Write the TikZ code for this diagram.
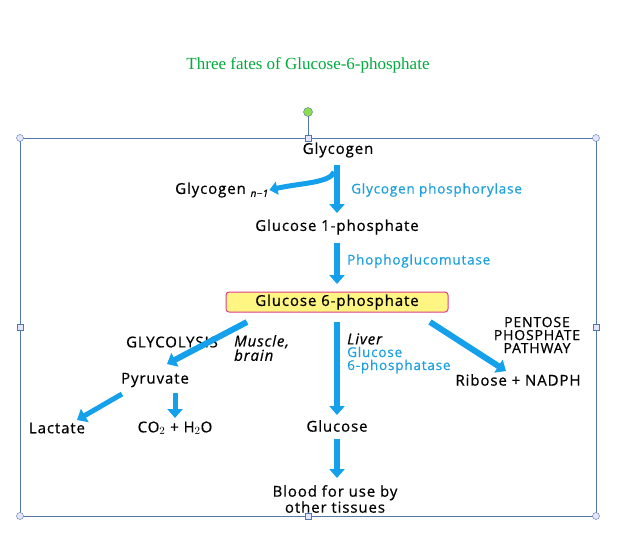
\documentclass[tikz,border=0pt]{standalone}
\usepackage{fontspec}
\setmainfont{Open Sans}[LetterSpace=6,FakeBold=0.6]
\newfontfamily\titlefont{Liberation Serif}
\usetikzlibrary{arrows.meta}
\definecolor{arr}{RGB}{20,160,235}
\definecolor{enz}{RGB}{30,160,220}
\definecolor{frame}{RGB}{80,120,170}
\begin{document}
\begin{tikzpicture}[x=1pt,y=-1pt,
  lab/.style={font=\fontsize{15}{14}\selectfont,inner sep=1pt,align=center},
  en/.style={lab,text=enz,font=\fontsize{13.5}{13}\selectfont},
  fa/.style={arr,line width=6pt,-{Triangle[length=9pt,width=15pt]}},
  hc/.style={circle,draw=frame,fill=white!90!blue,minimum size=7pt,inner sep=0pt},
  hs/.style={rectangle,draw=frame,fill=white!90!blue,minimum size=6pt,inner sep=0pt}]
\useasboundingbox (0,0) rectangle (626,542);
\node[font=\titlefont\fontsize{17}{19}\selectfont,text={rgb,255:red,0;green,170;blue,60}] (title) at (308,65) {Three fates of Glucose-6-phosphate};
\draw[frame] (20,138) rectangle (596,516);
\draw[frame] (308,138) -- (308,115);
\node[circle,draw=frame,fill={rgb,255:red,140;green,220;blue,80},minimum width=7pt,minimum height=9pt,inner sep=0pt] (rot) at (308,112) {};
\foreach \p/\n in {{(20,138)}/c1,{(596,138)}/c2,{(20,516)}/c3,{(596,516)}/c4}{\node[hc] (\n) at \p {};}
\foreach \p/\n in {{(308,138)}/s1,{(308,516)}/s2,{(20,327)}/s3,{(596,327)}/s4}{\node[hs] (\n) at \p {};}
\node[lab] (gly) at (338,150) {Glycogen};
\node[lab,anchor=west] (glyn) at (174,190) {Glycogen \raisebox{-3pt}{\fontsize{10}{10}\selectfont\itshape n\/{\normalfont\textminus}1}};
\node[en,anchor=west] (gp) at (350,190) {Glycogen phosphorylase};
\node[lab] (g1p) at (337,227) {Glucose 1-phosphate};
\node[en,anchor=west] (pgm) at (346,261) {Phophoglucomutase};
\node[lab,draw={rgb,255:red,220;green,60;blue,140},fill={rgb,255:red,255;green,245;blue,130},rounded corners=3pt,minimum width=222pt,minimum height=20pt,line width=1pt] (g6p) at (337,302) {Glucose 6-phosphate};
\node[lab] (glyc) at (172,342) {GLYCOLYSIS};
\node[lab,font=\itshape\fontsize{15}{13}\selectfont,align=left,anchor=west] (mb) at (233,348) {Muscle,\\brain};
\node[lab,font=\itshape\fontsize{15}{13}\selectfont,anchor=west] (liv) at (346,339) {Liver};
\node[en,align=left,anchor=west] (g6pase) at (346,360) {Glucose\\6-phosphatase};
\node[lab,font=\fontsize{14}{13}\selectfont] (ppp) at (537,335) {PENTOSE\\PHOSPHATE\\PATHWAY};
\node[lab] (pyr) at (155,380) {Pyruvate};
\node[lab] (rib) at (518,380) {Ribose + NADPH};
\node[lab] (lac) at (57,428) {Lactate};
\node[lab] (co2) at (175,428) {CO$_2$ + H$_2$O};
\node[lab] (glc) at (337,426) {Glucose};
\node[lab] (blood) at (335,499) {Blood for use by\\other tissues};
\draw[fa] (337,165) -- (337,213);
\draw[arr,line width=5pt,-{Triangle[length=8pt,width=13pt]}] (334,172) .. controls (330,183) and (300,183) .. (glyn.east);
\draw[fa] (337,243) -- (337,284);
\draw[fa] (247,322) -- (167,364);
\draw[fa] (337,322) -- (337,415);
\draw[fa] (430,322) -- (506,371);
\draw[fa,line width=5pt] (122,394) -- (77,420);
\draw[fa,line width=5pt] (175,393) -- (175,418);
\draw[fa] (glc.south) ++(0,6) coordinate (a2) -- (337,478);
\end{tikzpicture}
\end{document}
